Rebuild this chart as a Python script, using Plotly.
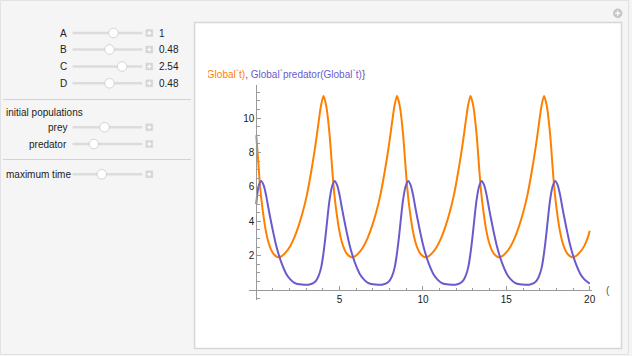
import plotly.graph_objects as go

# ---------------- data ----------------
prey_t = [0.0, 0.12, 0.22, 0.32, 0.44, 0.57, 0.72, 0.87, 1.02, 1.17,
          1.32, 1.53, 1.78, 2.03, 2.28, 2.53, 2.78, 3.03, 3.28, 3.53, 3.73, 3.88, 4.03,
          4.13, 4.23, 4.40, 4.53, 4.63, 4.73, 4.85, 4.98, 5.13, 5.28, 5.43, 5.58,
          5.73, 5.94, 6.19, 6.44, 6.69, 6.94, 7.19, 7.44, 7.69, 7.94, 8.14, 8.29, 8.44,
          8.54, 8.64, 8.81, 8.94, 9.04, 9.14, 9.26, 9.39, 9.54, 9.69, 9.84, 9.99,
          10.14, 10.35, 10.60, 10.85, 11.10, 11.35, 11.60, 11.85, 12.10, 12.35, 12.55, 12.70, 12.85,
          12.95, 13.05, 13.22, 13.35, 13.45, 13.55, 13.67, 13.80, 13.95, 14.10, 14.25, 14.40,
          14.55, 14.76, 15.01, 15.26, 15.51, 15.76, 16.01, 16.26, 16.51, 16.76, 16.96, 17.11, 17.26,
          17.36, 17.46, 17.63, 17.76, 17.86, 17.96, 18.08, 18.21, 18.36, 18.51, 18.66, 18.81,
          18.96, 19.17, 19.42, 19.67, 19.92, 20.0]
prey_v = [9.0, 7.45, 6.1, 5.15, 4.25, 3.45, 2.8, 2.38, 2.12, 1.97,
          1.90, 1.97, 2.2, 2.55, 3.05, 3.7, 4.5, 5.5, 6.8, 8.3, 9.7, 10.7, 11.28,
          11.0, 10.5, 9.0, 7.35, 6.1, 5.15, 4.25, 3.45, 2.8, 2.38, 2.12, 1.97,
          1.90, 1.97, 2.2, 2.55, 3.05, 3.7, 4.5, 5.5, 6.8, 8.3, 9.7, 10.7, 11.28,
          11.0, 10.5, 9.0, 7.35, 6.1, 5.15, 4.25, 3.45, 2.8, 2.38, 2.12, 1.97,
          1.90, 1.97, 2.2, 2.55, 3.05, 3.7, 4.5, 5.5, 6.8, 8.3, 9.7, 10.7, 11.28,
          11.0, 10.5, 9.0, 7.35, 6.1, 5.15, 4.25, 3.45, 2.8, 2.38, 2.12, 1.97,
          1.90, 1.97, 2.2, 2.55, 3.05, 3.7, 4.5, 5.5, 6.8, 8.3, 9.7, 10.7, 11.28,
          11.0, 10.5, 9.0, 7.35, 6.1, 5.15, 4.25, 3.45, 2.8, 2.38, 2.12, 1.97,
          1.90, 1.97, 2.2, 2.55, 3.15, 3.45]

predator_t = [0.0, 0.13, 0.29,
              0.44, 0.59, 0.74, 0.89, 1.04, 1.19, 1.34, 1.54, 1.79, 2.04, 2.29, 2.59,
              2.89, 3.14, 3.39, 3.59, 3.74, 3.89, 4.01, 4.14, 4.26, 4.39, 4.54, 4.70,
              4.85, 5.00, 5.15, 5.30, 5.45, 5.60, 5.75, 5.95, 6.20, 6.45, 6.70, 7.00,
              7.30, 7.55, 7.80, 8.00, 8.15, 8.30, 8.42, 8.55, 8.67, 8.80, 8.95, 9.11,
              9.26, 9.41, 9.56, 9.71, 9.86, 10.01, 10.16, 10.36, 10.61, 10.86, 11.11, 11.41,
              11.71, 11.96, 12.21, 12.41, 12.56, 12.71, 12.83, 12.96, 13.08, 13.21, 13.36, 13.52,
              13.67, 13.82, 13.97, 14.12, 14.27, 14.42, 14.57, 14.77, 15.02, 15.27, 15.52, 15.82,
              16.12, 16.37, 16.62, 16.82, 16.97, 17.12, 17.24, 17.37, 17.49, 17.62, 17.77, 17.93,
              18.08, 18.23, 18.38, 18.53, 18.68, 18.83, 18.98, 19.18, 19.43, 19.68, 19.93, 20.0]
predator_v = [5.0, 6.0, 6.34,
              6.1, 5.5, 4.7, 3.95, 3.25, 2.6, 2.08, 1.5, 0.95, 0.62, 0.42, 0.33,
              0.30, 0.31, 0.38, 0.55, 0.82, 1.3, 2.0, 3.0, 4.1, 5.2, 6.0, 6.34,
              6.1, 5.5, 4.7, 3.95, 3.25, 2.6, 2.08, 1.5, 0.95, 0.62, 0.42, 0.33,
              0.30, 0.31, 0.38, 0.55, 0.82, 1.3, 2.0, 3.0, 4.1, 5.2, 6.0, 6.34,
              6.1, 5.5, 4.7, 3.95, 3.25, 2.6, 2.08, 1.5, 0.95, 0.62, 0.42, 0.33,
              0.30, 0.31, 0.38, 0.55, 0.82, 1.3, 2.0, 3.0, 4.1, 5.2, 6.0, 6.34,
              6.1, 5.5, 4.7, 3.95, 3.25, 2.6, 2.08, 1.5, 0.95, 0.62, 0.42, 0.33,
              0.30, 0.31, 0.38, 0.55, 0.82, 1.3, 2.0, 3.0, 4.1, 5.2, 6.0, 6.34,
              6.1, 5.5, 4.7, 3.95, 3.25, 2.6, 2.08, 1.5, 0.95, 0.62, 0.42, 0.37]

x_tickvals = [0, 5, 10, 15, 20]
x_ticktext = ["", "5", "10", "15", "20"]
y_tickvals = [0, 2, 4, 6, 8, 10]
y_ticktext = ["", "2", "4", "6", "8", "10"]

param_labels = ["A", "B", "C", "D"]
param_values = ["1", "0.48", "2.54", "0.48"]
init_labels = ["prey", "predator"]
time_label = "maximum time"
section_title = "initial populations"

PREY_COLOR = "#FF8000"
PRED_COLOR = "#6A5ACD"
FONT = "Liberation Sans, Arial, sans-serif"

# ---------------- geometry helpers ----------------
W, H = 632, 356


def X(px):
    return px / W


def Y(py):
    return 1 - py / H


fig = go.Figure()

fig.add_trace(go.Scatter(x=prey_t, y=prey_v, mode="lines",
                         line=dict(color=PREY_COLOR, width=2, shape="spline", smoothing=0.8),
                         hoverinfo="skip", showlegend=False))
fig.add_trace(go.Scatter(x=predator_t, y=predator_v, mode="lines",
                         line=dict(color=PRED_COLOR, width=2, shape="spline", smoothing=0.8),
                         hoverinfo="skip", showlegend=False))

# clipped axes label (a second invisible subplot clips the text on the left)
label_html = (f'<span style="color:{PREY_COLOR}">Global`t)</span>'
              '<span style="color:#555555">, </span>'
              f'<span style="color:{PRED_COLOR}">Global`predator(Global`t)</span>'
              '<span style="color:#555555">}</span>')
CLIP_L, CLIP_R = 209, 611
fig.add_trace(go.Scatter(x=[(367 - CLIP_L) / (CLIP_R - CLIP_L)], y=[0.5], mode="text",
                         text=[label_html], textposition="middle left",
                         textfont=dict(family=FONT, size=10),
                         cliponaxis=True, xaxis="x2", yaxis="y2",
                         hoverinfo="skip", showlegend=False))

x0_px, x1_px = 250, 595
y0_px, y1_px = 300, 85
t_per_px = 1 / 16.75
v_per_px = 1 / 17.2
xr = [(x0_px - 257.5) * t_per_px, (x1_px - 257.5) * t_per_px]
yr = [(290 - y0_px) * v_per_px, (290 - y1_px) * v_per_px]

AX = "#9a9a9a"
fig.update_layout(
    width=W, height=H, margin=dict(l=0, r=0, t=0, b=0),
    paper_bgcolor="#f4f4f4", plot_bgcolor="rgba(0,0,0,0)",
    xaxis=dict(domain=[X(x0_px), X(x1_px)], range=xr, anchor="free", position=Y(290),
               showline=True, linecolor=AX, linewidth=1, showgrid=False, zeroline=False,
               tickmode="array", tickvals=x_tickvals, ticktext=x_ticktext,
               ticks="inside", ticklen=4, tickcolor=AX, tickwidth=1,
               tickfont=dict(family=FONT, size=10, color="#1a1a1a"),
               minor=dict(tickmode="linear", tick0=0, dtick=1, ticks="inside",
                          ticklen=2.5, tickcolor=AX, tickwidth=1, showgrid=False),
               fixedrange=True),
    yaxis=dict(domain=[Y(y0_px), Y(y1_px)], range=yr, anchor="free", position=X(257.5),
               showline=True, linecolor=AX, linewidth=1, showgrid=False, zeroline=False,
               tickmode="array", tickvals=y_tickvals, ticktext=y_ticktext,
               ticks="inside", ticklen=4, tickcolor=AX, tickwidth=1,
               tickfont=dict(family=FONT, size=10, color="#1a1a1a"),
               minor=dict(tickmode="linear", tick0=0, dtick=0.5, ticks="inside",
                          ticklen=2.5, tickcolor=AX, tickwidth=1, showgrid=False),
               fixedrange=True),
    xaxis2=dict(domain=[X(CLIP_L), X(CLIP_R)], range=[0, 1], visible=False, anchor="y2",
                fixedrange=True),
    yaxis2=dict(domain=[Y(86), Y(64)], range=[0, 1], visible=False, anchor="x2",
                fixedrange=True),
)

shapes = []
annotations = []

# outer frame
shapes.append(dict(type="rect", xref="paper", yref="paper", x0=X(0.5), x1=X(631.5),
                   y0=Y(354.5), y1=Y(0.5), line=dict(color="#e2e2e2", width=1),
                   fillcolor="#f5f5f5", layer="below"))
# plot pane
shapes.append(dict(type="rect", xref="paper", yref="paper", x0=X(195.5), x1=X(624.5),
                   y0=Y(348.5), y1=Y(22.5), line=dict(color="#d6d6d6", width=1.5),
                   fillcolor="#ffffff", layer="below"))
# top-right icon
shapes.append(dict(type="circle", xref="paper", yref="paper", x0=X(616.2), x1=X(625.2),
                   y0=Y(17.8), y1=Y(8.8), line=dict(color="#c6c6c6", width=0.5),
                   fillcolor="#c6c6c6"))
shapes.append(dict(type="line", xref="paper", yref="paper", x0=X(618.2), x1=X(623.2),
                   y0=Y(13.3), y1=Y(13.3), line=dict(color="white", width=1.3)))
shapes.append(dict(type="line", xref="paper", yref="paper", x0=X(620.7), x1=X(620.7),
                   y0=Y(10.8), y1=Y(15.8), line=dict(color="white", width=1.3)))

# separators
for sy in [99.5, 159.5]:
    shapes.append(dict(type="line", xref="paper", yref="paper", x0=X(3), x1=X(192),
                       y0=Y(sy), y1=Y(sy), line=dict(color="#d2d2d2", width=1)))


def slider(yc, thumb_x, label, value=None):
    shapes.append(dict(type="line", xref="paper", yref="paper", x0=X(73), x1=X(143),
                       y0=Y(yc), y1=Y(yc), line=dict(color="#dcdcdc", width=2.5)))
    shapes.append(dict(type="circle", xref="paper", yref="paper",
                       x0=X(thumb_x - 4.8), x1=X(thumb_x + 4.8),
                       y0=Y(yc + 4.8), y1=Y(yc - 4.8),
                       line=dict(color="#c9c9c9", width=0.8), fillcolor="#ffffff"))
    shapes.append(dict(type="rect", xref="paper", yref="paper", x0=X(146.6), x1=X(153.4),
                       y0=Y(yc + 3.4), y1=Y(yc - 3.4), line=dict(color="#d3d3d3", width=0.5),
                       fillcolor="#d6d6d6"))
    shapes.append(dict(type="line", xref="paper", yref="paper", x0=X(148), x1=X(152),
                       y0=Y(yc), y1=Y(yc), line=dict(color="white", width=1.2)))
    shapes.append(dict(type="line", xref="paper", yref="paper", x0=X(150), x1=X(150),
                       y0=Y(yc - 2), y1=Y(yc + 2), line=dict(color="white", width=1.2)))
    if label is not None:
        annotations.append(dict(xref="paper", yref="paper", x=X(69.5), y=Y(yc),
                                xanchor="right", yanchor="middle", text=label, showarrow=False,
                                font=dict(family=FONT, size=10, color="#222222")))
    if value is not None:
        annotations.append(dict(xref="paper", yref="paper", x=X(157.5), y=Y(yc),
                                xanchor="left", yanchor="middle", text=value, showarrow=False,
                                font=dict(family=FONT, size=10, color="#222222")))


param_rows = [33, 49.5, 66.5, 83.3]
param_thumbs = [114, 110, 122.7, 110]
for lab, val, yc, tx in zip(param_labels, param_values, param_rows, param_thumbs):
    slider(yc, tx, lab, val)

annotations.append(dict(xref="paper", yref="paper", x=X(4.5), y=Y(112), xanchor="left",
                        yanchor="middle", text=section_title, showarrow=False,
                        font=dict(family=FONT, size=10, color="#222222")))
slider(127.3, 105, init_labels[0])
slider(144, 94.3, init_labels[1])
slider(174.3, 102.3, None)
annotations.append(dict(xref="paper", yref="paper", x=X(4.5), y=Y(174.3), xanchor="left",
                        yanchor="middle", text=time_label, showarrow=False,
                        font=dict(family=FONT, size=10, color="#222222")))

# clipped x axis label
annotations.append(dict(xref="paper", yref="paper", x=X(606.5), y=Y(290), xanchor="left",
                        yanchor="middle", text="(", showarrow=False,
                        font=dict(family=FONT, size=10, color="#555555")))

fig.update_layout(shapes=shapes, annotations=annotations)
fig.write_html("out.html", config={"displayModeBar": False, "staticPlot": True},
               post_script="document.body.style.margin='0px';")
